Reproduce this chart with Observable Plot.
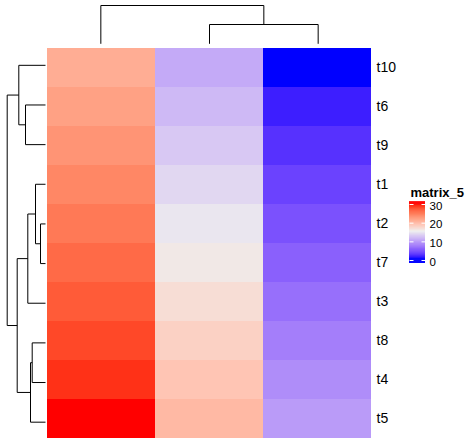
<!DOCTYPE html>
<html>
<head>
<meta charset="utf-8">
<script src="https://cdn.jsdelivr.net/npm/d3@7"></script>
<script src="https://cdn.jsdelivr.net/npm/@observablehq/plot@0.6"></script>
<style>
  html, body { margin: 0; padding: 0; background: white; }
  #chart { position: relative; width: 469px; height: 448px; overflow: hidden; }
  #chart > svg { position: absolute; left: 0; top: 0; background: transparent; }
</style>
</head>
<body>
<div id="chart"></div>
<script>
// ---- data ----
const rowNames = ["t10", "t6", "t9", "t1", "t2", "t7", "t3", "t8", "t4", "t5"];
const colNames = ["c1", "c2", "c3"];
const col1Values = [21, 22, 23, 24, 25, 26, 27, 28, 29, 30];
const col2Values = [11, 12, 13, 14, 15, 16, 17, 18, 19, 20];
const col3Values = [1, 2, 3, 4, 5, 6, 7, 8, 9, 10];

// row dendrogram merges (node k = "n"+k, in merge order)
const rowMergeA = ["t2", "t1", "n2", "t8", "n4", "n3", "t6", "t10", "n8"];
const rowMergeB = ["t7", "n1", "t3", "t4", "t5", "n5", "t9", "n7", "n6"];
const rowMergeH = [5, 10, 17.7, 13.3, 15, 28.3, 20, 26.7, 38.3];

// column dendrogram merges
const colMergeA = ["c2", "c1"];
const colMergeB = ["c3", "n1"];
const colMergeH = [19.3, 38.3];

const legendTitle = "matrix_5";
const legendTicks = [0, 10, 20, 30];

// ---- build ----
const columns = [col1Values, col2Values, col3Values];
const cells = [];
colNames.forEach((c, j) => rowNames.forEach((r, i) => cells.push({row: r, col: c, value: columns[j][i]})));

const allVals = columns.flat();
const vMin = d3.min(allVals), vMax = d3.max(allVals);
const colorOpts = {
  type: "linear",
  domain: [vMin, vMax],
  clamp: true,
  interpolate: d3.piecewise(d3.interpolateLab, ["blue", "#EEEEEE", "red"])
};

function dendro(order, A, B, H) {
  const pos = new Map(order.map((d, i) => [d, i]));
  const hgt = new Map(order.map(d => [d, 0]));
  const segs = [];
  A.forEach((a, k) => {
    const b = B[k], h = H[k];
    const pa = pos.get(a), pb = pos.get(b);
    segs.push({p1: pa, h1: hgt.get(a), p2: pa, h2: h});
    segs.push({p1: pb, h1: hgt.get(b), p2: pb, h2: h});
    segs.push({p1: pa, h1: h, p2: pb, h2: h});
    const n = "n" + (k + 1);
    pos.set(n, (pa + pb) / 2);
    hgt.set(n, h);
  });
  return segs;
}

const W = 469, Hh = 448;
const font = "Liberation Sans, Arial, Helvetica, sans-serif";
const baseStyle = {background: "transparent", fontFamily: font, color: "black", overflow: "visible"};

// heatmap body
const heat = Plot.plot({
  width: W, height: Hh,
  marginLeft: 46, marginRight: 97, marginTop: 45, marginBottom: 6.5,
  style: {...baseStyle, fontSize: "14px"},
  x: {type: "band", domain: colNames, padding: 0, axis: null},
  y: {type: "band", domain: rowNames, padding: 0, axis: "right", tickSize: 0, tickPadding: 4, label: null},
  color: colorOpts,
  marks: [
    Plot.cell(cells, {x: "col", y: "row", fill: "value", inset: 0, shapeRendering: "crispEdges"})
  ]
});

// row dendrogram
const rowMaxH = d3.max(rowMergeH);
const rowDen = Plot.plot({
  width: W, height: Hh,
  marginLeft: 6.7, marginRight: W - 45, marginTop: 45, marginBottom: 6.5,
  style: baseStyle,
  x: {domain: [rowMaxH, 0], axis: null},
  y: {domain: [-0.5, rowNames.length - 0.5], reverse: true, axis: null},
  marks: [
    Plot.link(dendro(rowNames, rowMergeA, rowMergeB, rowMergeH), {x1: "h1", y1: "p1", x2: "h2", y2: "p2", stroke: "black", strokeWidth: 1})
  ]
});

// column dendrogram
const colMaxH = d3.max(colMergeH);
const colDen = Plot.plot({
  width: W, height: Hh,
  marginLeft: 46, marginRight: 97, marginTop: 5, marginBottom: Hh - 43.3,
  style: baseStyle,
  x: {domain: [-0.5, colNames.length - 0.5], axis: null},
  y: {domain: [0, colMaxH], axis: null},
  marks: [
    Plot.link(dendro(colNames, colMergeA, colMergeB, colMergeH), {x1: "p1", y1: "h1", x2: "p2", y2: "h2", stroke: "black", strokeWidth: 1})
  ]
});

// legend
const lo = -1.6, hi = 31.45, step = 0.25;
const slices = d3.range(lo, hi, step);
const legend = Plot.plot({
  width: W, height: Hh,
  marginLeft: 409, marginRight: W - 425, marginTop: 201.3, marginBottom: Hh - 263,
  style: baseStyle,
  x: {domain: [0, 1], axis: null},
  y: {domain: [lo, hi], axis: null},
  color: colorOpts,
  marks: [
    Plot.rect(slices, {x1: 0, x2: 1, y1: d => d, y2: d => Math.min(hi, d + 2 * step), fill: d => d + step / 2, inset: 0}),
    Plot.link(legendTicks, {x1: 0, x2: 0.25, y1: d => d, y2: d => d, stroke: "white", strokeWidth: 1}),
    Plot.link(legendTicks, {x1: 0.75, x2: 1, y1: d => d, y2: d => d, stroke: "white", strokeWidth: 1}),
    Plot.text(legendTicks, {x: 1, y: d => d, text: d => String(d), dx: 4, dy: 1.5, textAnchor: "start", fontSize: 11.5, fill: "black"}),
    Plot.text([legendTitle], {frameAnchor: "top-left", text: d => d, dx: 1, dy: -5, lineAnchor: "bottom", textAnchor: "start", fontWeight: "bold", fontSize: 13, fill: "black"})
  ]
});

const chart = document.getElementById("chart");
[heat, rowDen, colDen, legend].forEach(s => chart.appendChild(s));
</script>
</body>
</html>
